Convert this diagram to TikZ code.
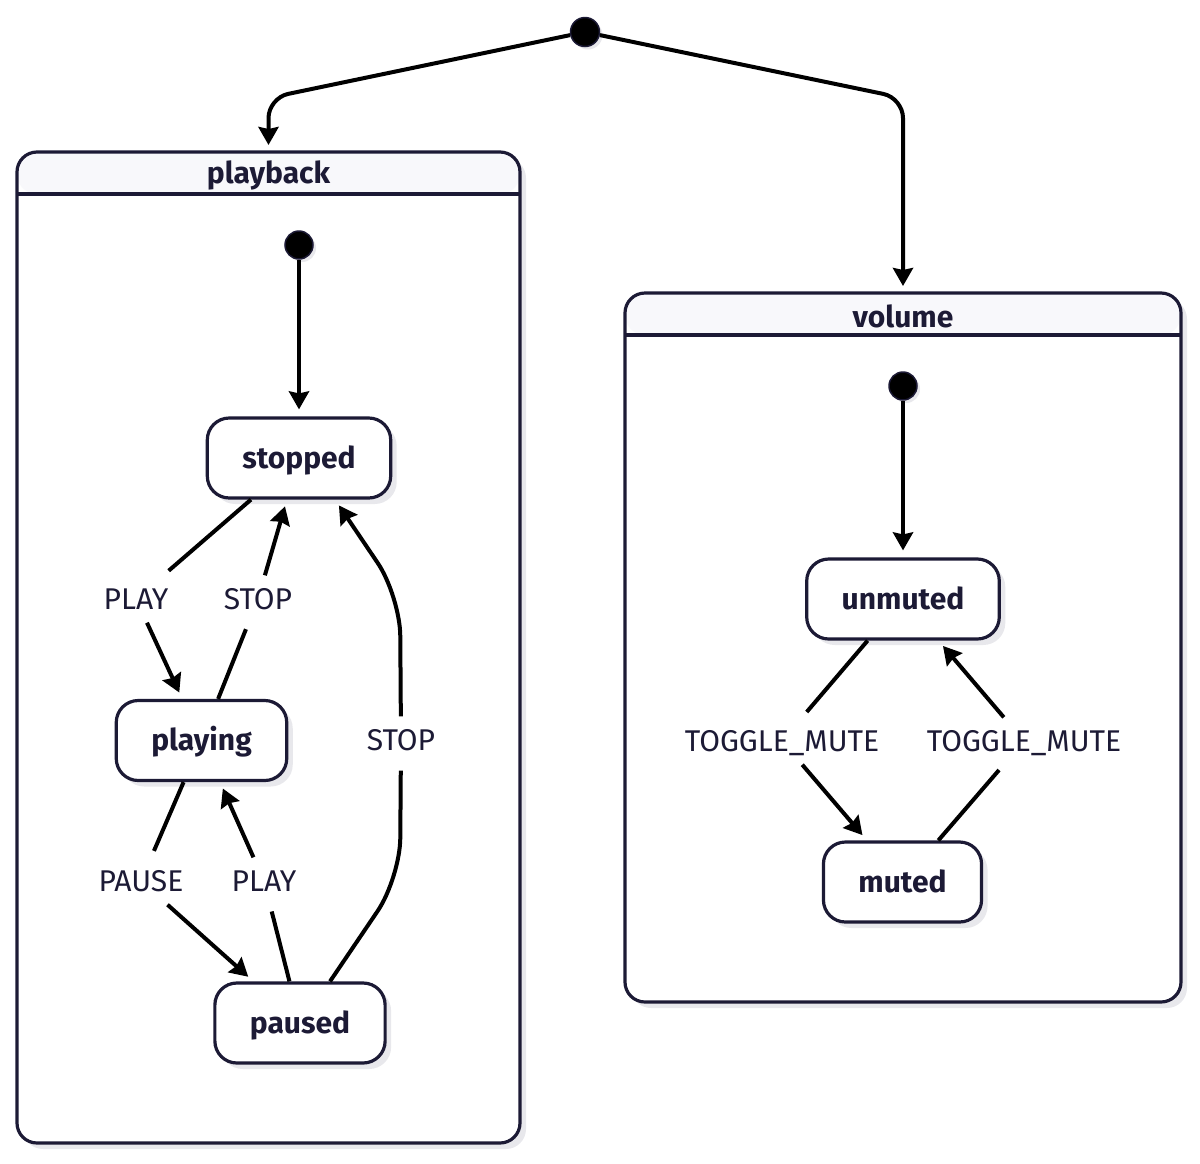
\documentclass[tikz,border=0pt]{standalone}
\usepackage{fontspec}
\setmainfont{Fira Sans}
\usetikzlibrary{arrows.meta,shadows}

\definecolor{ink}{HTML}{1C1A35}
\definecolor{hdrfill}{HTML}{F8F8FB}
\definecolor{shade}{HTML}{E8E8EC}

\begin{document}
\begin{tikzpicture}[
    x=1pt, y=-1pt,
    >={Stealth[length=18pt,width=20pt,inset=2pt]},
    every node/.style={font=\fontsize{30}{36}\selectfont, text=ink},
    state/.style={rectangle, draw=ink, line width=3.2pt, rounded corners=22pt, fill=white,
        minimum height=80pt, inner xsep=35pt, text height=26pt, text depth=6pt,
        font=\fontsize{30}{36}\selectfont\bfseries,
        general shadow={fill=shade, shadow xshift=6pt, shadow yshift=-6pt}},
    cluster/.style={rectangle, draw=ink, line width=3.2pt, rounded corners=20pt, fill=white,
        inner sep=0pt, outer sep=0pt,
        general shadow={fill=shade, shadow xshift=6pt, shadow yshift=-6pt},
        path picture={
            \fill[hdrfill] (path picture bounding box.north west) rectangle ([yshift=-42pt]path picture bounding box.north east);
            \draw[ink, line width=3.2pt] ([yshift=-42pt]path picture bounding box.north west) -- ([yshift=-42pt]path picture bounding box.north east);
        }},
    title/.style={font=\fontsize{30}{36}\selectfont\bfseries, inner sep=0pt},
    init/.style={circle, fill=black, draw=ink, line width=1.5pt, minimum size=29pt, inner sep=0pt,
        general shadow={fill=shade, shadow xshift=3pt, shadow yshift=-3pt}},
    lbl/.style={inner xsep=4pt, inner ysep=13pt, text height=21pt, text depth=0pt},
    tr/.style={draw=black, line width=4pt, rounded corners=20pt, shorten >=7pt}
]
\useasboundingbox (0,0) rectangle (1200,1163);

% composite states
\node[cluster, minimum width=503pt, minimum height=991pt] (playback) at (268.5,647.5) {};
\node[title] (playbackTitle) at ([yshift=-23pt]playback.north) {playback};
\node[cluster, minimum width=556pt, minimum height=709pt] (volume) at (903,647.5) {};
\node[title] (volumeTitle) at ([yshift=-23pt]volume.north) {volume};

% initial points
\node[init] (top)    at (585,32)  {};
\node[init, minimum size=28pt] (pbInit)  at (299,245) {};
\node[init, minimum size=28pt] (volInit) at (903,386) {};

% playback states
\node[state] (stopped) at (299,458)   {stopped};
\node[state] (playing) at (201.5,740.5) {playing};
\node[state] (paused)  at (300,1023)  {paused};

% volume states
\node[state] (unmuted) at (903,599)   {unmuted};
\node[state] (muted)   at (902.5,882) {muted};

% transition labels
\node[lbl] (lPlayA)  at (136,599)  {PLAY};
\node[lbl] (lStopA)  at (258,599)  {STOP};
\node[lbl] (lStopB)  at (401,740)  {STOP};
\node[lbl] (lPause)  at (141,881)  {PAUSE};
\node[lbl] (lPlayB)  at (264,881)  {PLAY};
\node[lbl] (lMuteA)  at (782,741)  {TOGGLE\_MUTE};
\node[lbl] (lMuteB)  at (1024,741) {TOGGLE\_MUTE};

% entry edges
\draw[tr, ->] (top) -- (268.5,98) -- (playback.north);
\draw[tr, ->] (top) -- (903,98) -- (volume.north);
\draw[tr, ->] (pbInit) -- (stopped);
\draw[tr, ->] (volInit) -- (unmuted);

% playback transitions
\draw[tr]     (stopped) -- (lPlayA);
\draw[tr, ->] (lPlayA)  -- (playing);
\draw[tr]     (playing) -- (lStopA);
\draw[tr, ->] (lStopA)  -- (stopped);
\draw[tr]     (playing) -- (lPause);
\draw[tr, ->] (lPause)  -- (paused);
\draw[tr]     (paused)  -- (lPlayB);
\draw[tr, ->] (lPlayB)  -- (playing);
\draw[tr, rounded corners=40pt] ([xshift=30pt]paused.north) -- (400,878) -- (lStopB);
\draw[tr, ->, rounded corners=40pt] (lStopB) -- (400,596) -- ([xshift=36pt]stopped.south);

% volume transitions
\draw[tr]     (unmuted) -- (lMuteA);
\draw[tr, ->] (lMuteA)  -- (muted);
\draw[tr]     (muted)   -- (lMuteB);
\draw[tr, ->] (lMuteB)  -- (unmuted);
\end{tikzpicture}
\end{document}
